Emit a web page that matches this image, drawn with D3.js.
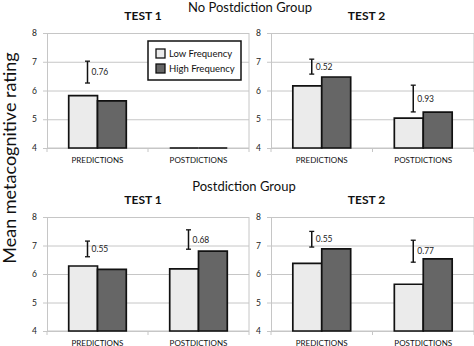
<!DOCTYPE html>
<html>
<head>
<meta charset="utf-8">
<script src="https://cdn.jsdelivr.net/npm/d3@7"></script>
<style>
  body { margin: 0; background: #fff; }
  svg { display: block; font-family: Lato, 'Open Sans', sans-serif; }
</style>
</head>
<body>
<div id="chart"></div>
<script>
// Mean metacognitive rating by word frequency
const categories = ['PREDICTIONS', 'POSTDICTIONS'];
const seriesNames = ['Low Frequency', 'High Frequency'];
const seriesColors = ['#ebebeb', '#666666'];
const yTicks = [4, 5, 6, 7, 8];
const groupTitles = ['No Postdiction Group', 'Postdiction Group'];
const testTitles = ['TEST 1', 'TEST 2'];

// [low, high] per category
const noPostTest1 = [[5.82, 5.64], [4, 4]];
const noPostTest2 = [[6.16, 6.47], [5.04, 5.25]];
const postTest1 = [[6.28, 6.16], [6.18, 6.80]];
const postTest2 = [[6.37, 6.88], [5.64, 6.53]];

// difference bars: length (= label) and midpoint per category
const noPostTest1Diff = [0.76, null];
const noPostTest1Mid = [6.64, null];
const noPostTest2Diff = [0.52, 0.93];
const noPostTest2Mid = [6.83, 5.72];
const postTest1Diff = [0.55, 0.68];
const postTest1Mid = [6.88, 7.21];
const postTest2Diff = [0.55, 0.77];
const postTest2Mid = [7.22, 6.80];

const width = 474, height = 346;

const svg = d3.select('#chart').append('svg')
  .attr('width', width)
  .attr('height', height);

const columns = [{ x0: 47, x1: 249 }, { x0: 271, x1: 474 }];
const rows = [{ y0: 33, y1: 148 }, { y0: 217, y1: 331 }];

function drawPanel(col, row, values, diff, mid, title) {
  const x = d3.scaleBand().domain(categories).range([col.x0, col.x1]);
  const xs = d3.scaleBand().domain(seriesNames)
    .range([0, x.bandwidth() * 0.57]);
  const y = d3.scaleLinear().domain([4, 8]).range([row.y1, row.y0]);
  const g = svg.append('g');

  // gridlines
  g.append('g')
    .attr('transform', `translate(${col.x0},0)`)
    .call(d3.axisLeft(y).tickValues(yTicks).tickSize(-(col.x1 - col.x0)).tickFormat(''))
    .call(a => a.select('.domain').remove())
    .call(a => a.selectAll('line').attr('stroke', '#c6c6c6'));

  // y axis
  g.append('g')
    .attr('transform', `translate(${col.x0},0)`)
    .call(d3.axisLeft(y).tickValues(yTicks).tickSize(4).tickPadding(6).tickFormat(d3.format('d')))
    .call(a => a.select('.domain').attr('stroke', '#c6c6c6'))
    .call(a => a.selectAll('line').attr('stroke', '#c6c6c6'))
    .call(a => a.selectAll('text').attr('font-size', 8.5).attr('fill', '#222').attr('font-family', 'Lato'));

  // right frame edge
  g.append('line')
    .attr('x1', col.x1).attr('x2', col.x1)
    .attr('y1', row.y0).attr('y2', row.y1)
    .attr('stroke', '#c6c6c6');

  // x axis with ticks at band edges
  const xa = g.append('g').attr('transform', `translate(0,${row.y1})`);
  xa.append('line')
    .attr('x1', col.x0).attr('x2', col.x1)
    .attr('stroke', '#c6c6c6');
  xa.selectAll('.edge')
    .data([col.x0, x(categories[1]), col.x1])
    .enter().append('line')
    .attr('x1', d => d).attr('x2', d => d)
    .attr('y1', 0).attr('y2', 4)
    .attr('stroke', '#c6c6c6');
  xa.selectAll('.cat')
    .data(categories)
    .enter().append('text')
    .attr('x', d => x(d) + x.bandwidth() / 2)
    .attr('y', 15)
    .attr('text-anchor', 'middle')
    .attr('font-size', 8)
    .attr('fill', '#111')
    .text(d => d);

  // bars (paths, so a zero-height bar still shows its outline)
  const groups = g.selectAll('.grp')
    .data(values)
    .enter().append('g')
    .attr('transform', (d, i) => `translate(${x(categories[i]) + x.bandwidth() / 2 - xs.range()[1] / 2},0)`);
  groups.selectAll('path')
    .data(d => d)
    .enter().append('path')
    .attr('d', (d, j) => {
      const bx = xs(seriesNames[j]), bw = xs.bandwidth();
      return `M${bx},${y(4)}V${y(d)}H${bx + bw}V${y(4)}Z`;
    })
    .attr('fill', (d, j) => seriesColors[j])
    .attr('stroke', '#111')
    .attr('stroke-width', 1.7);

  // difference bars
  categories.forEach((c, i) => {
    if (diff[i] == null) return;
    const cx = x(c) + x.bandwidth() / 2 - 10;
    const top = y(mid[i] + diff[i] / 2), bot = y(mid[i] - diff[i] / 2);
    g.append('line').attr('x1', cx).attr('x2', cx).attr('y1', top).attr('y2', bot)
      .attr('stroke', '#111').attr('stroke-width', 1.5);
    [top, bot].forEach(v => g.append('line')
      .attr('x1', cx - 2.5).attr('x2', cx + 2.5).attr('y1', v).attr('y2', v)
      .attr('stroke', '#111').attr('stroke-width', 1.3));
    g.append('text')
      .attr('x', cx + 4).attr('y', y(mid[i]) + 3)
      .attr('font-size', 8.5).attr('fill', '#222')
      .text(d3.format('.2f')(diff[i]));
  });

  // test title
  g.append('text')
    .attr('x', (col.x0 + col.x1) / 2 + (col.x0 < 100 ? -5 : -6))
    .attr('y', row.y0 - 13)
    .attr('text-anchor', 'middle')
    .attr('font-size', 12)
    .attr('font-weight', 'bold')
    .attr('fill', '#111')
    .text(title);
}

drawPanel(columns[0], rows[0], noPostTest1, noPostTest1Diff, noPostTest1Mid, testTitles[0]);
drawPanel(columns[1], rows[0], noPostTest2, noPostTest2Diff, noPostTest2Mid, testTitles[1]);
drawPanel(columns[0], rows[1], postTest1, postTest1Diff, postTest1Mid, testTitles[0]);
drawPanel(columns[1], rows[1], postTest2, postTest2Diff, postTest2Mid, testTitles[1]);

// group titles
svg.selectAll('.gt')
  .data(groupTitles)
  .enter().append('text')
  .attr('x', (d, i) => i === 0 ? 250 : 244)
  .attr('y', (d, i) => i === 0 ? 12 : 191)
  .attr('text-anchor', 'middle')
  .attr('font-size', 13)
  .attr('fill', '#111')
  .text(d => d);

// y axis title
svg.append('text')
  .attr('transform', 'translate(16,158) rotate(-90)')
  .attr('text-anchor', 'middle')
  .attr('font-size', 18)
  .attr('fill', '#111')
  .text('Mean metacognitive rating');

// legend
const legend = svg.append('g').attr('transform', 'translate(148,41)');
legend.append('rect')
  .attr('width', 93).attr('height', 39)
  .attr('fill', '#fff').attr('stroke', '#111').attr('stroke-width', 1.5);
const items = legend.selectAll('.item')
  .data(seriesNames)
  .enter().append('g')
  .attr('transform', (d, i) => `translate(8,${8 + i * 15})`);
items.append('rect')
  .attr('width', 9).attr('height', 9)
  .attr('fill', (d, i) => seriesColors[i])
  .attr('stroke', '#111').attr('stroke-width', 1.3);
items.append('text')
  .attr('x', 13).attr('y', 8)
  .attr('font-size', 9.5)
  .attr('fill', '#111')
  .text(d => d);
</script>
</body>
</html>
